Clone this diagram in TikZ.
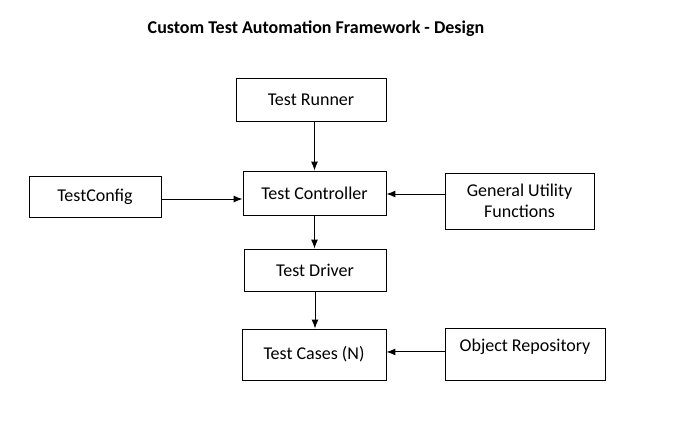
\documentclass[tikz,border=0pt]{standalone}
\usepackage{fontspec}
\setmainfont{Carlito}
\usetikzlibrary{arrows.meta}
\begin{document}
\begin{tikzpicture}[x=1pt,y=-1pt,
  box/.style={draw,line width=0.9pt,inner sep=0pt,align=center,font=\fontsize{18}{21}\selectfont},
  arr/.style={-{Latex[length=9,width=7]},line width=1pt}]
\useasboundingbox (0,0) rectangle (682,423);
\node[font=\bfseries\fontsize{18}{21}\selectfont] (title) at (316,29) {Custom Test Automation Framework - Design};
\node[box,minimum width=150,minimum height=43] (run) at (311,99.5) {Test Runner};
\node[box,minimum width=143,minimum height=44] (ctl) at (314.5,193) {Test Controller};
\node[box,minimum width=132,minimum height=41] (cfg) at (95,196.5) {TestConfig};
\node[box,minimum width=149,minimum height=56] (util) at (519.5,201) {General Utility\\Functions};
\node[box,minimum width=142,minimum height=42] (drv) at (315,270) {Test Driver};
\node[box,minimum width=144,minimum height=51] (cas) at (314,354.5) {Test Cases (N)};
\node[box,minimum width=160,minimum height=52,anchor=north] (obj) at (525,328) {};
\node[font=\fontsize{18}{21}\selectfont] (objt) at (525,347) {Object Repository};
\draw[arr] (run.south -| ctl) -- (ctl.north);
\draw[arr] ([yshift=-2.5]cfg.east) -- ([yshift=-2.5]cfg.east -| ctl.west);
\draw[arr] ([yshift=7]util.west) -- ([yshift=7]util.west -| ctl.east);
\draw[arr] (ctl.south) -- (ctl.south |- drv.north);
\draw[arr] (drv.south) -- (drv.south |- cas.north);
\draw[arr] ([yshift=2.5]obj.west) -- ([yshift=2.5]obj.west -| cas.east);
\end{tikzpicture}
\end{document}
